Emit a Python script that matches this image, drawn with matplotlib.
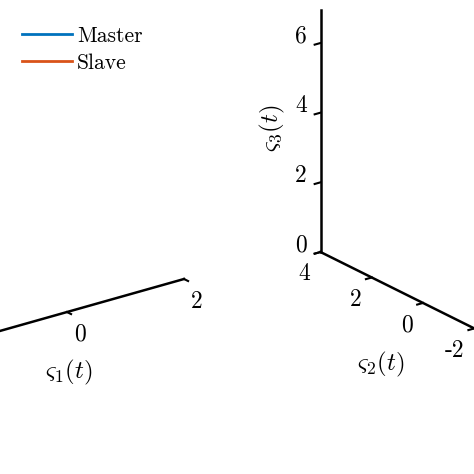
import numpy as np
import matplotlib
matplotlib.use("Agg")
import matplotlib.pyplot as plt

plt.rcParams['font.family'] = 'serif'
plt.rcParams['font.serif'] = ['cmr10']
plt.rcParams['mathtext.fontset'] = 'cm'
plt.rcParams['axes.unicode_minus'] = False

# ── axis ranges and ticks ──
x_lim = (-3.0, 2.0)
y_lim = (-4.0, 4.0)
z_lim = (0.0, 6.95)
x_ticks = [-2, 0, 2]
y_ticks = [-4, -2, 0, 2, 4]
z_ticks = [0, 2, 4, 6]
x_tick_labels = ['-2', '0', '2']
y_tick_labels = ['-4', '-2', '0', '2', '4']
z_tick_labels = ['0', '2', '4', '6']

# ── series (the trajectories lie outside the cropped view) ──
series_names = ['Master', 'Slave']
series_colors = ['#0072BD', '#D95319']
master_x, master_y, master_z = [], [], []
slave_x, slave_y, slave_z = [], [], []

W = H = 474
fig = plt.figure(figsize=(W / 100, H / 100), dpi=100)


def style_axes(ax):
    ax.set_proj_type('ortho')
    ax.view_init(elev=22, azim=-127)
    # edge lengths in pixels: 73 px/unit in x, 42.5 in y, 37.5 in z
    ax.set_box_aspect((73 * np.ptp(x_lim), 42.5 * np.ptp(y_lim),
                       37.5 * np.ptp(z_lim)))
    ax.set_xlim(*x_lim)
    ax.set_ylim(*y_lim)
    ax.set_zlim(*z_lim)
    ax.set_xticks(x_ticks, labels=x_tick_labels)
    ax.set_yticks(y_ticks, labels=y_tick_labels)
    ax.set_zticks(z_ticks, labels=z_tick_labels)
    ax.grid(False)
    for axis in (ax.xaxis, ax.yaxis, ax.zaxis):
        axis.set_pane_color((1, 1, 1, 0))
        axis.pane.set_edgecolor((1, 1, 1, 0))
        axis.line.set_linewidth(1.8)
        axis.line.set_color('k')
        axis._axinfo['tick']['inward_factor'] = 0.25
        axis._axinfo['tick']['outward_factor'] = 0.0
        axis._axinfo['tick']['linewidth'] = {True: 1.5, False: 0.5}
        axis.set_rotate_label(False)
    ax.tick_params(labelsize=17, pad=0)
    ax.xaxis.set_tick_params(pad=-1)
    ax.yaxis.set_tick_params(pad=-1)
    for t in ax.get_zticklabels():
        t.set_va('baseline')
    for t in ax.get_xticklabels():
        t.set_ha('left')
    for t in ax.get_yticklabels():
        t.set_ha('right')
    ax.set_xlabel(r'$\varsigma_1(t)$', fontsize=18, labelpad=10, rotation=0)
    ax.set_ylabel(r'$\varsigma_2(t)$', fontsize=18, labelpad=9, rotation=0)
    ax.set_zlabel(r'$\varsigma_3(t)$', fontsize=18, labelpad=5, rotation=90)
    ax.yaxis._axinfo['label']['va'] = 'top'
    ax.zaxis._axinfo['label']['va'] = 'top'


def to_px(ax, p):
    M = ax.get_proj()
    v = M @ np.array([p[0], p[1], p[2], 1.0])
    return ax.transData.transform((v[0] / v[3], v[1] / v[3]))


def place(ax, p0, p1, target, target_len):
    """Move/scale the 3D axes so p0 lands on target (px from top-left)
    and the segment p0-p1 is target_len pixels long."""
    for _ in range(3):
        fig.canvas.draw()
        a = to_px(ax, p0)
        b = to_px(ax, p1)
        s = target_len / np.hypot(*(b - a))
        pos = ax.get_position()
        x0, y0 = pos.x0 * W, pos.y0 * H
        nx0 = target[0] - (a[0] - x0) * s
        ny0 = (H - target[1]) - (a[1] - y0) * s
        ax.set_position([nx0 / W, ny0 / H, pos.width * s, pos.height * s])


ax_l = fig.add_axes([-0.9, 0.0, 1.0, 1.0], projection='3d')
ax_r = fig.add_axes([0.5, 0.0, 1.0, 1.0], projection='3d')

for ax in (ax_l, ax_r):
    style_axes(ax)
    ax.plot(master_x, master_y, master_z, color=series_colors[0],
            lw=2, label=series_names[0])
    ax.plot(slave_x, slave_y, slave_z, color=series_colors[1],
            lw=2, label=series_names[1])

place(ax_l, (x_lim[1], y_lim[0], 0), (0, y_lim[0], 0), (184, 279), 121.6)
place(ax_r, (x_lim[0], y_lim[1], 0), (x_lim[0], y_lim[1], 6), (320.5, 252), 209)

ax_l.legend(loc='upper left', bbox_to_anchor=(22 / W, 1 - 26 / H),
            bbox_transform=fig.transFigure, frameon=False, fontsize=15.5,
            handlelength=2.3, handletextpad=0.25, labelspacing=0.36,
            borderpad=0, borderaxespad=0)

fig.savefig('out.png', dpi=100)
